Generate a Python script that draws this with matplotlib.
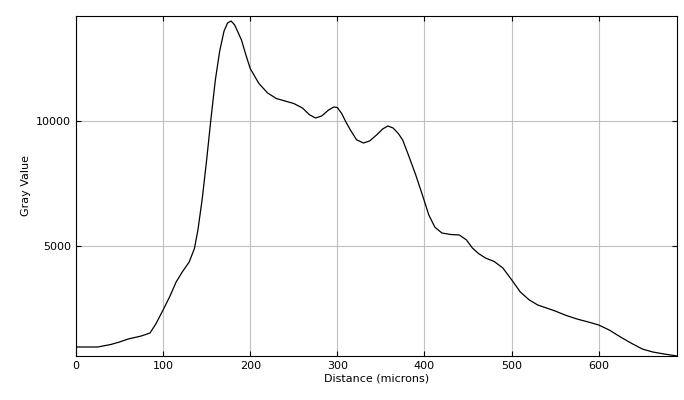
import matplotlib
matplotlib.use("Agg")
import matplotlib.pyplot as plt

distance = [0, 25, 40, 50, 60, 75, 85, 92, 100, 108, 115, 122, 130, 136, 140, 145, 150, 155, 160, 165, 170, 174, 178, 182, 186, 190, 195, 200, 210, 220, 230, 240, 250, 260, 268, 275, 282, 290, 296, 300, 305, 310, 315, 322, 330, 337, 345, 352, 358, 364, 370, 375, 382, 390, 398, 405, 412, 420, 430, 440, 448, 455, 462, 470, 480, 490, 500, 510, 520, 530, 540, 550, 562, 575, 588, 600, 612, 625, 638, 650, 662, 675, 690]
gray = [960, 960, 1060, 1160, 1280, 1400, 1520, 1900, 2440, 3000, 3560, 3960, 4360, 4900, 5640, 6900, 8440, 10100, 11640, 12800, 13600, 13920, 14000, 13850, 13550, 13240, 12650, 12100, 11500, 11120, 10900, 10800, 10700, 10520, 10250, 10120, 10200, 10440, 10560, 10540, 10300, 9950, 9640, 9250, 9120, 9200, 9440, 9680, 9800, 9720, 9500, 9240, 8600, 7840, 7000, 6240, 5750, 5520, 5460, 5440, 5250, 4920, 4700, 4520, 4380, 4120, 3650, 3160, 2850, 2640, 2520, 2400, 2230, 2080, 1960, 1840, 1640, 1360, 1100, 880, 760, 680, 600]
xticks = [0, 100, 200, 300, 400, 500, 600]
yticks = [5000, 10000]

fig = plt.figure(figsize=(6.84, 4.0), dpi=100)
ax = fig.add_axes([0.111, 0.11, 0.879, 0.85])
ax.plot(distance, gray, color="black", lw=0.9)
ax.set_xlim(0, 690)
ax.set_ylim(600, 14200)
ax.set_xticks(xticks)
ax.set_yticks(yticks)
ax.grid(True, color="#c0c0c0", lw=0.8)
ax.tick_params(direction="in", top=True, right=True, labelsize=8)
ax.set_xlabel("Distance (microns)", fontsize=8, labelpad=2)
ax.set_ylabel("Gray Value", fontsize=8)
fig.savefig("out.png", dpi=100)
